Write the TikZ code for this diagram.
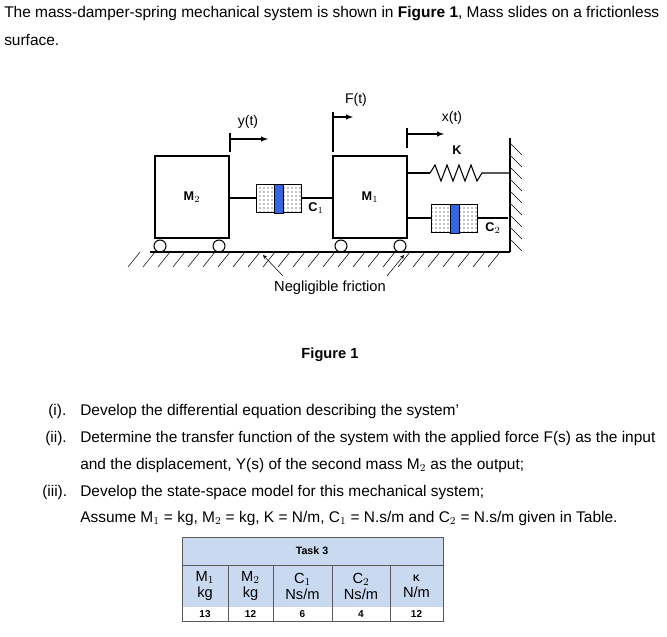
\documentclass[tikz,border=0pt]{standalone}
\usepackage{fontspec}
\setmainfont{Liberation Sans}
\usetikzlibrary{patterns}
\definecolor{tblue}{HTML}{C9DAF0}
\definecolor{dblue}{HTML}{3366E0}
\tikzset{
  mass/.style={draw,thick,minimum width=55.5pt,minimum height=61.5pt,font=\bfseries\fontsize{9.5}{10}\selectfont},
  wheel/.style={draw,thick,circle,minimum size=9pt,inner sep=0pt},
  lbl/.style={font=\fontsize{10.5}{12}\selectfont},
  blbl/.style={font=\bfseries\fontsize{9.5}{10}\selectfont},
  arr/.style={-latex,thick},
  txt/.style={anchor=west,font=\fontsize{11.6}{13}\selectfont,inner sep=0pt},
  cell/.style={inner sep=0pt,align=center,font=\fontsize{11}{12}\selectfont}
}
\newcommand{\damper}[3]{% name, center x, center y
  \node[draw,thick,minimum width=34pt,minimum height=21.5pt,inner sep=0pt,
    pattern=dots] (#1) at (#2,#3) {};
  \fill[dblue,draw=black] (#2-4.5,#3-14.3) rectangle (#2+4.5,#3+14.3);
}
\begin{document}
\begin{tikzpicture}[x=0.75pt,y=-0.75pt]
\useasboundingbox (0,0) rectangle (667,636);
\node[txt] (t1) at (4,14) {The mass-damper-spring mechanical system is shown in \textbf{Figure 1}, Mass slides on a frictionless};
\node[txt] (t2) at (4,40) {surface.};
% masses
\node[mass] (m2) at (192,197) {M$_2$};
\node[mass] (m1) at (370,197) {M$_1$};
\foreach \n/\x in {w1/160,w2/219,w3/341,w4/400}
  \node[wheel] (\n) at (\x,246) {};
% ground
\coordinate (g0) at (150,252);
\coordinate (g1) at (510,252);
\draw[thick] (g0) -- (g1);
\foreach \x in {140,155,...,505} \draw (\x,252) -- (\x-12,267);
% wall
\coordinate (wt) at (510,138);
\draw[thick] (wt) -- (g1);
\foreach \y in {143,155,...,250} \draw (510,\y) -- (522,\y+12);
% damper C1
\damper{c1}{279}{198.5}
\draw[thick] (m2.east |- 0,198) -- (c1.west |- 0,198);
\draw[thick] (c1.east |- 0,198) -- (m1.west |- 0,198);
\node[blbl] (c1l) at (316,208) {C$_1$};
% spring
\coordinate (s0) at (407,173);
\coordinate (s1) at (510,173);
\draw[thick] (s0) -- (430,173);
\draw[thick] (430,173) -- (435,165) -- (441,181) -- (447,165) -- (453,181) -- (459,165) -- (465,181) -- (471,165) -- (477,181) -- (482,173) -- (s1);
\node[blbl] (kl) at (457,150) {K};
% damper C2
\damper{c2}{454.5}{218.5}
\draw[thick] (407,218) -- (c2.west |- 0,218);
\draw[thick] (c2.east |- 0,218) -- (508,218);
\node[blbl] (c2l) at (493,228) {C$_2$};
% motion arrows
\coordinate (ya) at (230,133); \coordinate (yb) at (230,152);
\draw[thick] (ya) -- (yb); \coordinate (yc) at (230,139); \coordinate (yd) at (268,139);
\draw[arr] (yc) -- (yd);
\node[lbl] (yl) at (248,122) {y(t)};
\coordinate (fa) at (333,112); \coordinate (fb) at (333,152);
\draw[thick] (fa) -- (fb); \coordinate (fc) at (333,117); \coordinate (fd) at (353,117);
\draw[arr] (fc) -- (fd);
\node[lbl] (fl) at (356,100) {F(t)};
\coordinate (xa) at (407,128); \coordinate (xb) at (407,148);
\draw[thick] (xa) -- (xb); \coordinate (xc) at (407,134); \coordinate (xd) at (444,134);
\draw[arr] (xc) -- (xd);
\node[lbl] (xl) at (452,118) {x(t)};
% friction
\node[lbl,font=\fontsize{11}{12}\selectfont] (nf) at (330,288) {Negligible friction};
\coordinate (n1) at (283,276); \coordinate (n2) at (263,255);
\coordinate (n3) at (387,276); \coordinate (n4) at (404,255);
\draw[-stealth] (n1) -- (n2);
\draw[-stealth] (n3) -- (n4);
\node[font=\bfseries\fontsize{11}{12}\selectfont] (fig) at (330,355) {Figure 1};
% questions
\node[txt] (q1) at (48,411) {(i).};
\node[txt] (q1t) at (80,411) {Develop the differential equation describing the system’};
\node[txt] (q2) at (45,438) {(ii).};
\node[txt] (q2t) at (80,438) {Determine the transfer function of the system with the applied force F(s) as the input};
\node[txt] (q2u) at (80,465) {and the displacement, Y(s) of the second mass M$_2$ as the output;};
\node[txt] (q3) at (42,492) {(iii).};
\node[txt] (q3t) at (80,492) {Develop the state-space model for this mechanical system;};
\node[txt] (q4) at (80,518) {Assume M$_1$ = kg, M$_2$ = kg, K = N/m, C$_1$ = N.s/m and C$_2$ = N.s/m given in Table.};
% table
\fill[tblue] (182,537) rectangle (443,607);
\draw[gray!70!black] (182,537) rectangle (443,621);
\draw[gray!70!black] (182,565) -- (443,565);
\foreach \x in {228,273,332,390} \draw[gray!70!black] (\x,565) -- (\x,621);
\node[cell,font=\bfseries\fontsize{8}{8}\selectfont] (th) at (312,551) {Task 3};
\node[cell] (ha) at (205,586) {M$_1$\\kg};
\node[cell] (hb) at (250.5,586) {M$_2$\\kg};
\node[cell] (hc) at (302.5,586) {C$_1$\\Ns/m};
\node[cell] (hd) at (361,586) {C$_2$\\Ns/m};
\node[cell] (he) at (416.5,586) {{\scriptsize\bfseries K}\\N/m};
\foreach \n/\x/\v in {va/205/13,vb/250.5/12,vc/302.5/6,vd/361/4,ve/416.5/12}
  \node[cell,font=\bfseries\fontsize{7.5}{7.5}\selectfont] (\n) at (\x,614) {\v};
\end{tikzpicture}
\end{document}
